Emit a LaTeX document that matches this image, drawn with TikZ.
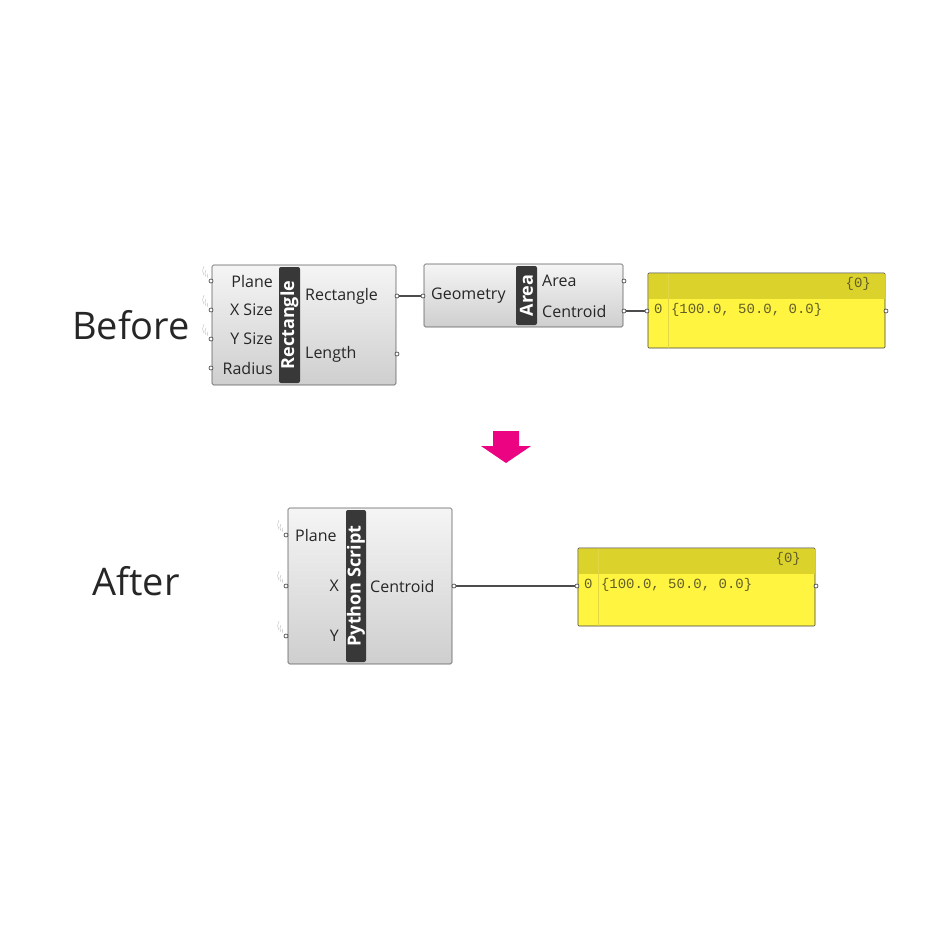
\documentclass[tikz,border=0pt]{standalone}
\usepackage{fontspec}
\setmainfont{Open Sans}
\newfontfamily\monof{Liberation Mono}
\begin{document}
\begin{tikzpicture}[x=1pt,y=-1pt,
  comp/.style={draw=gray!70!black,rounded corners=1.5pt,top color=gray!8,bottom color=gray!38,line width=0.6pt},
  strip/.style={fill=black!78,rounded corners=2pt},
  lbl/.style={font=\fontsize{16}{18}\selectfont,text=black!85,inner sep=0pt},
  striptxt/.style={font=\fontsize{18}{20}\selectfont\bfseries,text=white,rotate=90,inner sep=0pt},
  port/.style={circle,draw=black!80,fill=white,line width=0.6pt,inner sep=0pt,minimum size=4pt},
  wire/.style={draw=black!70,line width=1.3pt},
  pnl/.style={draw=gray!50!black,rounded corners=1pt,fill=yellow!75!white,line width=0.6pt},
  pnlhead/.style={fill=yellow!60!olive!80},
  mono/.style={font=\monof\fontsize{14}{16}\selectfont,text=olive!60!black,inner sep=0pt},
  big/.style={font=\fontsize{38}{40}\selectfont,text=black!85,inner sep=0pt},
  wl/.style={draw=gray!45,line width=0.5pt}]
\useasboundingbox (0,0) rectangle (927,927);
% Before
\node[big] (before) at (131,325) {Before};
\draw[comp] (212,265) rectangle (396,385);
\fill[strip] (279,267) rectangle (300,383);
\node[striptxt] (rt) at (289.5,325) {Rectangle};
\foreach \n/\t/\y in {pl/Plane/281,xs/X Size/310,ys/Y Size/339,ra/Radius/368}{
  \node[lbl,anchor=east] (\n) at (273,\y) {\t};
  \node[port] (p\n) at (211,\y) {};}
\foreach \y in {281,310,339}{\foreach \r in {4,6,8}{\draw[wl] (208-\r+4,\y-\r*0.7) arc[start angle=145,end angle=215,radius=\r];}}
\node[lbl,anchor=west] (rect) at (305,296) {Rectangle};
\node[lbl,anchor=west] (len) at (305,354) {Length};
\node[port] (prect) at (397,296) {};
\node[port] (plen) at (397,354) {};
\draw[comp] (424,264) rectangle (623,327);
\fill[strip] (516,266) rectangle (537,325);
\node[striptxt] (ar) at (526.5,295.5) {Area};
\node[lbl,anchor=west] (geo) at (431,296) {Geometry};
\node[port] (pgeo) at (423,296) {};
\node[lbl,anchor=west] (area) at (542,281) {Area};
\node[lbl,anchor=west] (cen) at (542,311) {Centroid};
\node[port] (parea) at (624,281) {};
\node[port] (pcen) at (624,311) {};
\draw[pnl] (648,273) rectangle (885,348);
\fill[pnlhead] (648.5,273.5) rectangle (884.5,299);
\draw[yellow!60!olive!70,line width=0.5pt] (668,273.5) -- (668,347.5);
\node[mono,anchor=east] (h1) at (871,284) {\{0\}};
\node[mono,anchor=west] (r1) at (654,310) {0 \{100.0, 50.0, 0.0\}};
\node[port] (pin1) at (647,311) {};
\node[port] (pout1) at (886,311) {};
\draw[wire] (prect) -- (pgeo);
\draw[wire] (pcen) -- (pin1);
% arrow
\fill[magenta!90!red] (493,431) -- (519,431) -- (519,446) -- (531,446) -- (506,463) -- (481,446) -- (493,446) -- cycle;
% After
\node[big] (after) at (136,581) {After};
\draw[comp] (288,508) rectangle (452,664);
\fill[strip] (346,510) rectangle (366,662);
\node[striptxt] (py) at (356,586) {Python Script};
\node[lbl,anchor=west] (apl) at (295,535) {Plane};
\node[lbl,anchor=east] (ax) at (339,586) {X};
\node[lbl,anchor=east] (ay) at (339,636) {Y};
\node[lbl,anchor=west] (acen) at (370,586) {Centroid};
\foreach \n/\y in {ppl/535,px/586,pyy/636}{\node[port] (\n) at (286,\y) {};
  \foreach \r in {4,6,8}{\draw[wl] (283-\r+4,\y-\r*0.7) arc[start angle=145,end angle=215,radius=\r];}}
\node[port] (pacen) at (454,586) {};
\draw[pnl] (578,548) rectangle (815,626);
\fill[pnlhead] (578.5,548.5) rectangle (814.5,574);
\draw[yellow!60!olive!70,line width=0.5pt] (598,548.5) -- (598,625.5);
\node[mono,anchor=east] (h2) at (801,559) {\{0\}};
\node[mono,anchor=west] (r2) at (584,585) {0 \{100.0, 50.0, 0.0\}};
\node[port] (pin2) at (577,586) {};
\node[port] (pout2) at (816,586) {};
\draw[wire] (pacen) -- (pin2);
\end{tikzpicture}
\end{document}
